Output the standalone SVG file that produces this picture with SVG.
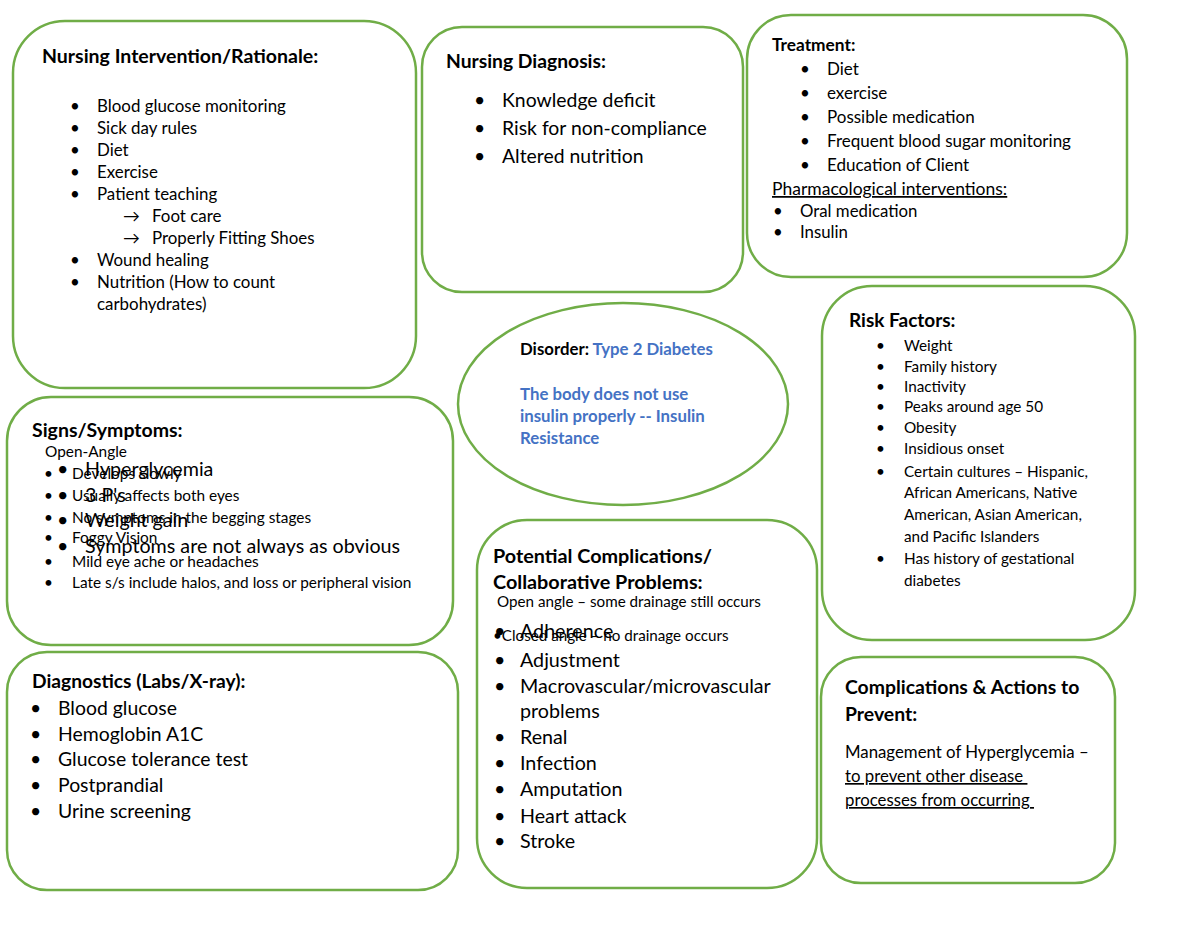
<svg xmlns="http://www.w3.org/2000/svg" width="1200" height="927" viewBox="0 0 1200 927">
<style>
.box{fill:#fff;stroke:#70AD47;stroke-width:2.5}
text{font-family:Lato,"Open Sans","Liberation Sans",sans-serif;fill:#000}
.b{font-weight:bold}
.blue{fill:#4472C4;font-weight:bold}
.u{text-decoration:underline}
</style>
<rect width="1200" height="927" fill="#fff"/>
<g id="connectors"/>
<g id="nursing-intervention">
<rect class="box" x="13" y="21" width="403" height="367" rx="52" ry="52"/>
<text class="b" x="42" y="63" font-size="19.5">Nursing Intervention/Rationale:</text>
<g font-size="16.9">
<text x="70" y="112">•</text><text x="97" y="112">Blood glucose monitoring</text>
<text x="70" y="134">•</text><text x="97" y="134">Sick day rules</text>
<text x="70" y="156">•</text><text x="97" y="156">Diet</text>
<text x="70" y="178">•</text><text x="97" y="178">Exercise</text>
<text x="70" y="200">•</text><text x="97" y="200">Patient teaching</text>
<text x="123" y="222">→</text><text x="152" y="222">Foot care</text>
<text x="123" y="244">→</text><text x="152" y="244">Properly Fitting Shoes</text>
<text x="70" y="266">•</text><text x="97" y="266">Wound healing</text>
<text x="70" y="288">•</text><text x="97" y="288">Nutrition (How to count</text>
<text x="97" y="310">carbohydrates)</text>
</g>
</g>
<g id="nursing-diagnosis">
<rect class="box" x="422" y="27" width="321" height="265" rx="40" ry="40"/>
<text class="b" x="446" y="68" font-size="19.3">Nursing Diagnosis:</text>
<g font-size="19.4">
<text x="474" y="107">•</text><text x="502" y="107">Knowledge deficit</text>
<text x="474" y="135">•</text><text x="502" y="135">Risk for non-compliance</text>
<text x="474" y="163">•</text><text x="502" y="163">Altered nutrition</text>
</g>
</g>
<g id="treatment">
<rect class="box" x="747" y="15" width="380" height="262" rx="44" ry="44"/>
<text class="b" x="772" y="51" font-size="17.3">Treatment:</text>
<g font-size="17">
<text x="800" y="75">•</text><text x="827" y="75">Diet</text>
<text x="800" y="99">•</text><text x="827" y="99">exercise</text>
<text x="800" y="123">•</text><text x="827" y="123">Possible medication</text>
<text x="800" y="147">•</text><text x="827" y="147">Frequent blood sugar monitoring</text>
<text x="800" y="171">•</text><text x="827" y="171">Education of Client</text>
<text class="u" x="772" y="195" font-size="17.5">Pharmacological interventions:</text>
<text x="773" y="217" font-size="16.8">•</text><text x="800" y="217" font-size="16.8">Oral medication</text>
<text x="773" y="238" font-size="16.8">•</text><text x="800" y="238" font-size="16.8">Insulin</text>
</g>
</g>
<g id="disorder">
<ellipse class="box" cx="623" cy="404" rx="165" ry="101"/>
<g font-size="16.8">
<text class="b" x="520" y="355">Disorder: <tspan class="blue">Type 2 Diabetes</tspan></text>
<text class="blue" x="520" y="400">The body does not use</text>
<text class="blue" x="520" y="422">insulin properly -- Insulin</text>
<text class="blue" x="520" y="444">Resistance</text>
</g>
</g>
<g id="signs-symptoms">
<rect class="box" x="7" y="397" width="446" height="248" rx="44" ry="44"/>
<text class="b" x="32" y="437" font-size="19.5">Signs/Symptoms:</text>
<g font-size="15.4">
<text x="45" y="457">Open-Angle</text>
<text x="44" y="479">•</text><text x="72" y="479">Develops slowly</text>
<text x="44" y="501">•</text><text x="72" y="501">Usually affects both eyes</text>
<text x="44" y="523">•</text><text x="72" y="523">No symptoms in the begging stages</text>
<text x="44" y="543">•</text><text x="72" y="543">Foggy Vision</text>
<text x="44" y="567">•</text><text x="72" y="567">Mild eye ache or headaches</text>
<text x="44" y="588">•</text><text x="72" y="588">Late s/s include halos, and loss or peripheral vision</text>
</g>
<g font-size="19.7">
<text x="57" y="476">•</text><text x="85" y="476">Hyperglycemia</text>
<text x="57" y="502">•</text><text x="85" y="502">3 P's</text>
<text x="57" y="527">•</text><text x="85" y="527">Weight gain</text>
<text x="57" y="553">•</text><text x="85" y="553">Symptoms are not always as obvious</text>
</g>
</g>
<g id="risk-factors">
<rect class="box" x="822" y="286" width="313" height="354" rx="50" ry="50"/>
<text class="b" x="849" y="327" font-size="19">Risk Factors:</text>
<g font-size="15.3">
<text x="876" y="351">•</text><text x="904" y="351">Weight</text>
<text x="876" y="372">•</text><text x="904" y="372">Family history</text>
<text x="876" y="392">•</text><text x="904" y="392">Inactivity</text>
<text x="876" y="412">•</text><text x="904" y="412">Peaks around age 50</text>
<text x="876" y="433">•</text><text x="904" y="433">Obesity</text>
<text x="876" y="454">•</text><text x="904" y="454">Insidious onset</text>
<text x="876" y="477">•</text><text x="904" y="477">Certain cultures – Hispanic,</text>
<text x="904" y="498">African Americans, Native</text>
<text x="904" y="520">American, Asian American,</text>
<text x="904" y="542">and Pacific Islanders</text>
<text x="876" y="564">•</text><text x="904" y="564">Has history of gestational</text>
<text x="904" y="586">diabetes</text>
</g>
</g>
<g id="potential-complications">
<rect class="box" x="477" y="520" width="340" height="368" rx="50" ry="50"/>
<text class="b" x="493" y="563" font-size="19.8">Potential Complications/</text>
<text class="b" x="493" y="589" font-size="19.8">Collaborative Problems:</text>
<g font-size="15.2">
<text x="497" y="607">Open angle – some drainage still occurs</text>
<text x="493" y="641">•Closed angle – no drainage occurs</text>
</g>
<g font-size="19.7">
<text x="494" y="638">•</text><text x="520" y="638">Adherence</text>
<text x="494" y="667">•</text><text x="520" y="667">Adjustment</text>
<text x="494" y="693">•</text><text x="520" y="693">Macrovascular/microvascular</text>
<text x="520" y="718">problems</text>
<text x="494" y="744">•</text><text x="520" y="744">Renal</text>
<text x="494" y="770">•</text><text x="520" y="770">Infection</text>
<text x="494" y="796">•</text><text x="520" y="796">Amputation</text>
<text x="494" y="823">•</text><text x="520" y="823">Heart attack</text>
<text x="494" y="848">•</text><text x="520" y="848">Stroke</text>
</g>
</g>
<g id="diagnostics">
<rect class="box" x="7" y="652" width="451" height="238" rx="40" ry="40"/>
<text class="b" x="32" y="688" font-size="19.2">Diagnostics (Labs/X-ray):</text>
<g font-size="19.4">
<text x="30" y="715">•</text><text x="58" y="715">Blood glucose</text>
<text x="30" y="741">•</text><text x="58" y="741">Hemoglobin A1C</text>
<text x="30" y="766">•</text><text x="58" y="766">Glucose tolerance test</text>
<text x="30" y="792">•</text><text x="58" y="792">Postprandial</text>
<text x="30" y="818">•</text><text x="58" y="818">Urine screening</text>
</g>
</g>
<g id="complications-actions">
<rect class="box" x="821" y="657" width="294" height="226" rx="40" ry="40"/>
<text class="b" x="845" y="694" font-size="19.4">Complications &amp; Actions to</text>
<text class="b" x="845" y="721" font-size="19.4">Prevent:</text>
<g font-size="16.8">
<text x="845" y="758">Management of Hyperglycemia –</text>
<text class="u" x="845" y="782" xml:space="preserve">to prevent other disease </text>
<text class="u" x="845" y="806" xml:space="preserve">processes from occurring </text>
</g>
</g>
</svg>
